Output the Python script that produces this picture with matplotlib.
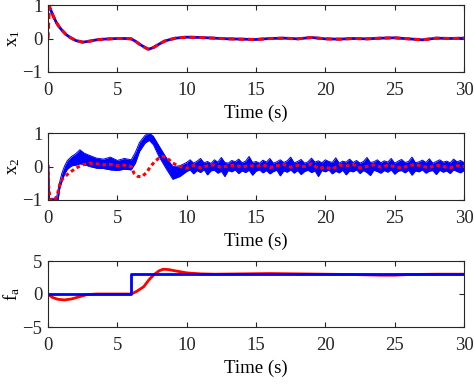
import numpy as np
import matplotlib
matplotlib.use("Agg")
import matplotlib.pyplot as plt

plt.rcParams['font.family'] = ['Liberation Serif', 'DejaVu Serif']
plt.rcParams['mathtext.fontset'] = 'custom'
plt.rcParams['mathtext.rm'] = 'Liberation Serif'
plt.rcParams['mathtext.it'] = 'Liberation Serif'

# ---------------- data ----------------
# x1 panel
t_x1 = [0, 0.1, 0.2, 0.4, 0.6, 0.8, 1.0, 1.3, 1.6, 2.0, 2.5, 3.0, 3.5, 4.0, 4.5, 5.0, 5.5, 6.0,
        6.3, 6.6, 7.0, 7.25, 7.6, 8.0, 8.4, 8.8, 9.2, 10, 11, 12, 13, 14, 15, 16, 17, 18, 19,
        20, 21, 22, 23, 24, 25, 26, 27, 28, 29, 30]
x1_true = [1.0, 0.95, 0.85, 0.65, 0.48, 0.35, 0.25, 0.12, 0.03, -0.06, -0.11, -0.08, -0.04, -0.02,
           -0.01, 0.0, 0.0, -0.01, -0.08, -0.17, -0.27, -0.32, -0.27, -0.17, -0.08, -0.03, 0.01,
           0.04, 0.03, 0.01, -0.01, -0.02, -0.03, 0.0, 0.01, -0.01, 0.03, -0.01, -0.02, 0.0,
           -0.01, 0.01, 0.02, -0.01, -0.04, 0.01, 0.0, 0.01]
x1_est = [0.0, 0.95, 0.85, 0.65, 0.48, 0.35, 0.25, 0.12, 0.03, -0.06, -0.11, -0.08, -0.04, -0.02,
          -0.01, 0.0, 0.0, -0.01, -0.08, -0.17, -0.27, -0.32, -0.27, -0.17, -0.08, -0.03, 0.01,
          0.04, 0.03, 0.01, -0.01, -0.02, -0.03, 0.0, 0.01, -0.01, 0.03, -0.01, -0.02, 0.0,
          -0.01, 0.01, 0.02, -0.01, -0.04, 0.01, 0.0, 0.01]

# x2 panel: true state, transient part (noisy band: lower / upper envelope)
t_x2b = [0, 0.05, 0.1, 0.3, 0.5, 0.6, 0.7, 0.85, 1.0, 1.2, 1.4, 1.7, 2.0, 2.3, 2.6, 3.0, 3.5,
         4.0, 4.5, 5.0, 5.5, 6.0, 6.3, 6.6, 7.0, 7.3, 7.6, 8.0, 8.5, 9.0, 9.5, 10.0]
x2_hi = [0.12, 0.0, -0.95, -0.95, -0.95, -0.95, -0.75, -0.45, -0.2, 0.02, 0.18, 0.3, 0.38, 0.5,
         0.4, 0.33, 0.25, 0.22, 0.28, 0.18, 0.24, 0.2, 0.42, 0.72, 0.93, 1.0, 0.9, 0.62, 0.28,
         0.0, 0.02, 0.12]
x2_lo = [0.05, -1.0, -1.02, -1.02, -1.02, -1.05, -1.08, -0.65, -0.45, -0.22, -0.08, 0.02, 0.04,
         0.08, 0.06, 0.0, -0.05, -0.06, -0.1, -0.12, -0.08, -0.1, 0.1, 0.45, 0.7, 0.78, 0.65,
         0.3, -0.05, -0.38, -0.3, -0.15]
# x2 panel: true state, steady part 10..30 s (envelope every 0.25 s)
x2_hi_ss = [0.12, 0.2, 0.1, 0.16, 0.24, 0.11, 0.15, 0.09, 0.2, 0.13, 0.27, 0.12, 0.1, 0.18, 0.14,
            0.22, 0.11, 0.16, 0.3, 0.12, 0.15, 0.1, 0.19, 0.13, 0.24, 0.1, 0.14, 0.2, 0.12, 0.17,
            0.28, 0.11, 0.15, 0.21, 0.1, 0.14, 0.25, 0.13, 0.17, 0.11, 0.2, 0.15, 0.12, 0.26,
            0.1, 0.16, 0.13, 0.22, 0.12, 0.18, 0.1, 0.15, 0.27, 0.12, 0.14, 0.2, 0.11, 0.17,
            0.13, 0.24, 0.1, 0.16, 0.21, 0.12, 0.15, 0.28, 0.11, 0.14, 0.19, 0.12, 0.23, 0.1,
            0.15, 0.2, 0.13, 0.16, 0.11, 0.22, 0.14, 0.18, 0.12]
x2_lo_ss = [-0.15, -0.1, -0.22, -0.12, -0.18, -0.09, -0.25, -0.13, -0.11, -0.2, -0.14, -0.3,
            -0.12, -0.16, -0.1, -0.21, -0.13, -0.18, -0.11, -0.26, -0.14, -0.1, -0.19, -0.12,
            -0.22, -0.15, -0.11, -0.28, -0.13, -0.17, -0.1, -0.2, -0.12, -0.24, -0.15, -0.11,
            -0.18, -0.13, -0.3, -0.12, -0.16, -0.1, -0.22, -0.14, -0.19, -0.11, -0.25, -0.13,
            -0.16, -0.1, -0.21, -0.12, -0.18, -0.27, -0.11, -0.15, -0.2, -0.12, -0.17, -0.1,
            -0.23, -0.14, -0.12, -0.19, -0.11, -0.26, -0.13, -0.16, -0.1, -0.2, -0.14, -0.12,
            -0.24, -0.11, -0.17, -0.13, -0.21, -0.1, -0.15, -0.19, -0.12]

# x2 panel: estimate
t_x2r = [0, 0.05, 0.15, 0.3, 0.5, 0.7, 0.9, 1.1, 1.5, 2.0, 2.5, 3.0, 3.5, 4.0, 4.5, 5.0, 5.5,
         6.0, 6.2, 6.5, 6.8, 7.1, 7.4, 7.7, 8.0, 8.3, 8.6, 9.0, 9.5,
         10.0, 10.5, 11.0, 11.5, 12.0, 12.5, 13.0, 13.5, 14.0, 14.5, 15.0, 15.5, 16.0, 16.5,
         17.0, 17.5, 18.0, 18.5, 19.0, 19.5, 20.0, 20.5, 21.0, 21.5, 22.0, 22.5, 23.0, 23.5,
         24.0, 24.5, 25.0, 25.5, 26.0, 26.5, 27.0, 27.5, 28.0, 28.5, 29.0, 29.5, 30.0]
x2_est = [0.05, -0.6, -1.0, -1.0, -1.0, -0.8, -0.45, -0.35, -0.2, -0.05, 0.05, 0.1, 0.08, 0.05,
          0.06, 0.02, 0.04, 0.0, -0.2, -0.3, -0.3, -0.18, 0.0, 0.15, 0.25, 0.3, 0.25, 0.1, 0.0,
          -0.05, 0.03, -0.04, 0.02, 0.05, -0.03, 0.02, 0.04, -0.02, 0.03, 0.0, 0.05, -0.03,
          0.02, 0.06, -0.02, 0.03, 0.0, 0.08, -0.06, -0.02, -0.08, 0.04, 0.02, 0.06, -0.04,
          0.0, 0.05, -0.02, 0.03, 0.0, -0.05, 0.02, 0.06, 0.0, -0.03, 0.04, 0.0, -0.04, 0.02, 0.0]

# fa panel
t_fa_true = [0, 6.0, 6.0, 30]
fa_true = [0, 0, 3, 3]
t_fa_est = [0, 0.3, 0.7, 1.2, 1.7, 2.2, 2.8, 3.5, 4.5, 6.0, 6.4, 6.9, 7.3, 7.6, 8.0, 8.3, 8.7,
            9.2, 10.0, 11.0, 12.0, 14.0, 16.0, 18.0, 20.0, 22.0, 24.0, 25.0, 26.0, 28.0, 30.0]
fa_est = [0, -0.5, -0.8, -0.9, -0.75, -0.45, -0.1, 0.0, 0.0, 0.0, 0.4, 1.1, 2.2, 2.85, 3.5,
          3.75, 3.7, 3.5, 3.2, 3.05, 3.0, 3.05, 3.1, 3.05, 3.0, 2.95, 2.85, 2.85, 2.95, 3.0, 3.0]

xticks = [0, 5, 10, 15, 20, 25, 30]

# ---------------- plot ----------------
W, H = 474, 384
fig = plt.figure(figsize=(W / 100, H / 100), dpi=100)

def mk(top_px, bot_px):
    return fig.add_axes([48 / W, 1 - bot_px / H, 416 / W, (bot_px - top_px) / H])

ax1 = mk(5, 72)
ax2 = mk(133, 200)
ax3 = mk(261, 327)

blue = '#0000ff'
red = '#ff0000'

ax1.plot(t_x1, x1_true, color=blue, lw=2.0)
ax1.plot(t_x1, x1_est, color=red, lw=2.2, ls=(0, (2.0, 1.2)))

t_hi_ss = np.linspace(10, 30, len(x2_hi_ss))
t_lo_ss = np.linspace(10, 30, len(x2_lo_ss))
ax2.fill_between(t_x2b, x2_lo, x2_hi, color=blue, lw=0)
ax2.plot(t_x2b, x2_hi, color=blue, lw=0.7)
ax2.plot(t_x2b, x2_lo, color=blue, lw=0.7)
lo_on_hi_grid = np.interp(t_hi_ss, t_lo_ss, x2_lo_ss)
ax2.fill_between(t_hi_ss, lo_on_hi_grid, x2_hi_ss, color=blue, lw=0)
ax2.plot(t_hi_ss, x2_hi_ss, color=blue, lw=0.7)
ax2.plot(t_lo_ss, x2_lo_ss, color=blue, lw=0.7)
ax2.plot(t_x2r, x2_est, color=red, lw=2.2, ls=(0, (1.2, 1.0)))

ax3.plot(t_fa_est, fa_est, color=red, lw=2.0)
ax3.plot(t_fa_true, fa_true, color=blue, lw=2.0)

for ax, ylim, yt, lab in [(ax1, (-1, 1), [-1, 0, 1], 'x$_{\\rm 1}$'),
                          (ax2, (-1, 1), [-1, 0, 1], 'x$_{\\rm 2}$'),
                          (ax3, (-5, 5), [-5, 0, 5], 'f$_{\\rm a}$')]:
    ax.set_xlim(0, 30)
    ax.set_ylim(*ylim)
    ax.set_xticks(xticks)
    ax.set_yticks(yt)
    ax.tick_params(direction='in', length=3.5, width=0.8, labelsize=13.5,
                   top=True, right=True, colors='#262626')
    ax.tick_params(axis='x', pad=7)
    ax.tick_params(axis='y', pad=4)
    for s in ax.spines.values():
        s.set_color('#262626')
        s.set_linewidth(0.8)
    ax.set_xlabel('Time (s)', fontsize=13.5, labelpad=4)
    ax.set_ylabel(lab, fontsize=13.5)
    ax.yaxis.set_label_coords(-0.062, 0.5)

fig.savefig('out.png', dpi=100)
